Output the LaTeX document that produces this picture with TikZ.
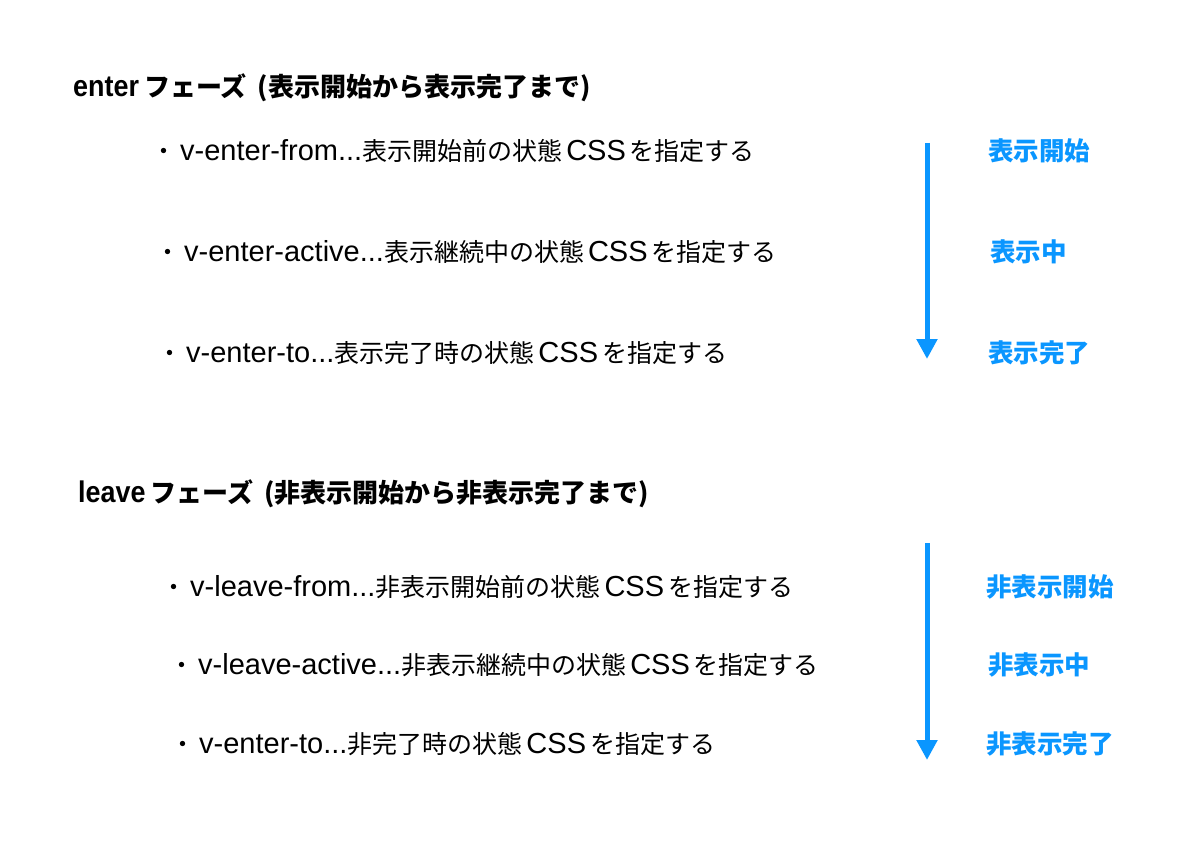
\documentclass[tikz,border=0pt]{standalone}
\usepackage{fontspec}
\setmainfont{Noto Sans CJK JP}
\newfontfamily\lat[Scale=1.16]{Liberation Sans}
\newfontfamily\latt[Scale=1.15,FakeStretch=0.9]{Liberation Sans}
\usetikzlibrary{arrows.meta}
\definecolor{flowblue}{RGB}{10,150,255}
\tikzset{
  phase/.style={anchor=base west, inner sep=0pt, font=\fontsize{26}{30}\selectfont\bfseries},
  item/.style={anchor=base west, inner sep=0pt, font=\fontsize{25}{30}\selectfont},
  stage/.style={anchor=base west, inner sep=0pt, text=flowblue, font=\fontsize{25.5}{30}\selectfont\bfseries},
  flow/.style={flowblue, line width=5pt, -{Triangle[width=20pt,length=20pt]}}
}
\newcommand{\gap}{\hspace{4pt}}
\begin{document}
\begin{tikzpicture}[x=1pt,y=1pt]
                \useasboundingbox (0,0) rectangle (1200,-853);
                % enter
                \node[phase] (enter) at (73,-97) {{\latt enter}\hspace{5pt}フェーズ\hspace{11pt}(表示開始から表示完了まで)};
                \node[item] (efrom) at (151,-160.5) {・\gap{\lat v-enter-from...}表示開始前の状態\gap{\lat CSS}\gap を指定する};
                \node[item] (eactive) at (155,-261.5) {・\gap{\lat v-enter-active...}表示継続中の状態\gap{\lat CSS}\gap を指定する};
                \node[item] (eto) at (157,-362.5) {・\gap{\lat v-enter-to...}表示完了時の状態\gap{\lat CSS}\gap を指定する};
                \node[stage] (sfrom) at (988,-160.7) {表示開始};
                \node[stage] (sactive) at (990,-261.7) {表示中};
                \node[stage] (sto) at (988,-362.7) {表示完了};
                \coordinate (etop) at (927,-143);
                \coordinate (ebot) at (927,-359);
                \draw[flow] (etop) -- (ebot);
                % leave
                \node[phase] (leave) at (78,-502.9) {{\latt leave}\hspace{5pt}フェーズ\hspace{11pt}(非表示開始から非表示完了まで)};
                \node[item] (lfrom) at (161,-596.5) {・\gap{\lat v-leave-from...}非表示開始前の状態\gap{\lat CSS}\gap を指定する};
                \node[item] (lactive) at (169,-674.5) {・\gap{\lat v-leave-active...}非表示継続中の状態\gap{\lat CSS}\gap を指定する};
                \node[item] (lto) at (170,-753.5) {・\gap{\lat v-enter-to...}非完了時の状態\gap{\lat CSS}\gap を指定する};
                \node[stage] (tfrom) at (986,-596.7) {非表示開始};
                \node[stage] (tactive) at (988,-674.7) {非表示中};
                \node[stage] (tto) at (986,-753.7) {非表示完了};
                \coordinate (ltop) at (927,-543);
                \coordinate (lbot) at (927,-760);
                \draw[flow] (ltop) -- (lbot);
\end{tikzpicture}
\end{document}
